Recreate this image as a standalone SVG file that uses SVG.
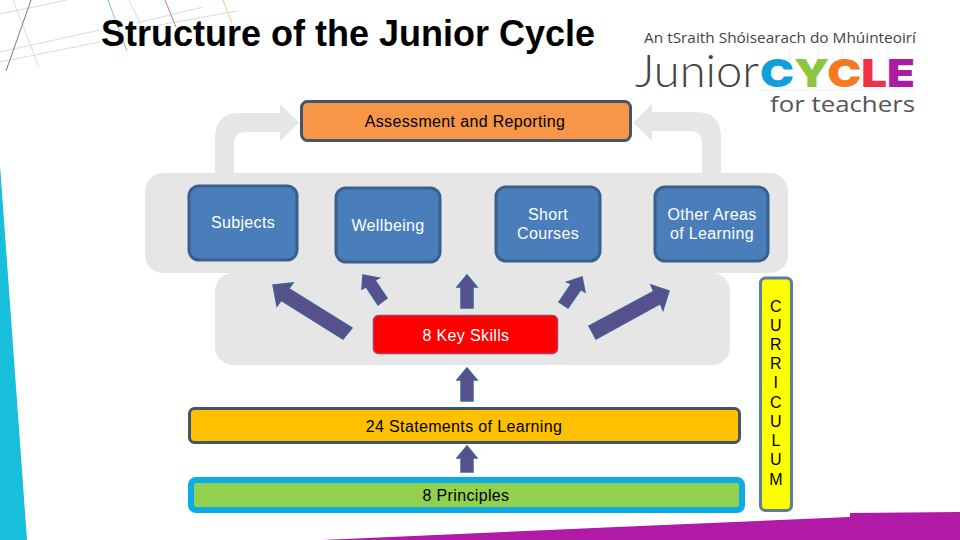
<svg xmlns="http://www.w3.org/2000/svg" width="960" height="540" viewBox="0 0 960 540">
<style>
text{font-family:"Liberation Sans",Arial,sans-serif}
.lbl{font-size:16px;letter-spacing:.35px;text-anchor:middle}
.w{fill:#fff}
.k{fill:#000}
.panel{fill:#e6e6e6}
.blue{fill:#4a7ebb;stroke:#3b5f8c;stroke-width:3}
.arr{fill:#56508c;stroke:#3f6391;stroke-width:1.5;stroke-linejoin:miter}
.g{stroke:#d5dde2;stroke-width:1;fill:none}
.logo{font-family:"Open Sans","Liberation Sans",sans-serif}
</style>
<rect width="960" height="540" fill="#fff"/>
<g id="decor">
<polygon points="0,165 27,540 0,540" fill="#17bfdb"/>
<polygon points="322,540 640,526 850,517 850,513 960,512 960,540" fill="#b01aa6"/>
<path class="g" d="M0 14L67 0M0 52L100 30M0 62L100 42M137 23L203 7M137 29L237 11M13 0L39 67M129 0L142 27"/>
<path d="M31 0L6 71" stroke="#8f6a8c" fill="none"/>
<path d="M108 0L127 51" stroke="#7cc6dc" fill="none"/>
<path d="M165 0L176 27" stroke="#c77c88" fill="none"/>
<path d="M223 0L232 23" stroke="#ebcb94" fill="none"/>
</g>
<g id="title"><text x="101" y="46" font-size="36" font-weight="700" fill="#000">Structure of the Junior Cycle</text></g>
<g id="logo" class="logo">
<path d="M790 47V90M818 47V90M842 47V90M861 47V90M888 47V90M760 90H915" stroke="#eceff1" fill="none"/>
<text class="logo" x="644" y="43" font-size="13.6" fill="#444" textLength="272" lengthAdjust="spacingAndGlyphs">An tSraith Shóisearach do Mhúinteoirí</text>
<text x="635" y="87" font-size="45" font-weight="300" fill="#444" style="font-family:Lato,'Open Sans',sans-serif" textLength="124" lengthAdjust="spacingAndGlyphs">Junior</text>
<text x="760" y="87" font-size="39" font-weight="900" textLength="155" lengthAdjust="spacingAndGlyphs" style="font-family:Inter,'Liberation Sans',sans-serif"><tspan fill="#0f9fdc">C</tspan><tspan fill="#8cc63f">Y</tspan><tspan fill="#f47a20">C</tspan><tspan fill="#ee3145">L</tspan><tspan fill="#a91ea0">E</tspan></text>
<text class="logo" x="770" y="112" font-size="21" fill="#555" textLength="145" lengthAdjust="spacingAndGlyphs">for teachers</text>
</g>
<g id="panels">
<rect class="panel" x="145" y="173" width="643" height="100" rx="18"/>
<rect class="panel" x="215" y="273" width="515" height="92" rx="18"/>
</g>
<g id="connectors">
<path class="panel" d="M215 173V138Q215 113 240 113H280V104L299 122.500L280 141V132H246Q234 132 234 144V173Z"/>
<path class="panel" d="M721 173V137Q721 112 696 112H652V104L633 122.500L652 141V131H690Q702 131 702 143V173Z"/>
<polygon class="arr" points="273,285 293,283 288.800,288.600 352,328 343,339 281.200,300.400 277,306"/>
<polygon class="arr" points="363,275 379,278 374.900,280.200 387,298 378,305 366.100,286.800 362,289"/>
<polygon class="arr" points="467,275 477,287 473,287 473,308 461,308 461,287 457,287"/>
<polygon class="arr" points="582,277 585,292 580.600,289.700 568,308 559,302 571.400,283.700 567,282"/>
<polygon class="arr" points="669,291 663,310 660.300,303.700 596,339 589,326 653.700,291.300 651,285"/>
<polygon class="arr" points="467,368 477,380 473,380 473,401 461,401 461,380 457,380"/>
<polygon class="arr" points="467,446 477,458 473,458 473,472 461,472 461,458 457,458"/>
</g>
<g id="assessment"><rect x="301.500" y="101.500" width="329" height="39" rx="6" fill="#f79646" stroke="#44546a" stroke-width="3"/><text class="lbl k" x="465" y="127">Assessment and Reporting</text></g>
<g id="subjects"><rect class="blue" x="189" y="186" width="108" height="74" rx="10"/><text class="lbl w" x="243" y="228">Subjects</text></g>
<g id="wellbeing"><rect class="blue" x="336" y="188" width="104" height="74" rx="10"/><text class="lbl w" x="388" y="231">Wellbeing</text></g>
<g id="short-courses"><rect class="blue" x="496" y="187" width="104" height="74" rx="10"/><text class="lbl w" x="548" y="220">Short</text><text class="lbl w" x="548" y="239">Courses</text></g>
<g id="other-areas"><rect class="blue" x="655" y="187" width="113" height="74" rx="10"/><text class="lbl w" x="712" y="220">Other Areas</text><text class="lbl w" x="712" y="239">of Learning</text></g>
<g id="key-skills"><rect x="373.500" y="315.500" width="184" height="38" rx="5" fill="#ff0000" stroke="#b5395b" stroke-width="1.500"/><text class="lbl w" x="466" y="341">8 Key Skills</text></g>
<g id="statements"><rect x="189.500" y="408.500" width="550" height="34" rx="5" fill="#ffc000" stroke="#44546a" stroke-width="3"/><text class="lbl k" x="464" y="432">24 Statements of Learning</text></g>
<g id="principles"><rect x="191" y="480" width="551" height="30" rx="5" fill="#92d050" stroke="#0dabe3" stroke-width="6"/><text class="lbl k" x="466" y="501">8 Principles</text></g>
<g id="curriculum"><rect x="760.500" y="278" width="31" height="232.500" rx="5" fill="#ffff00" stroke="#5b7f95" stroke-width="3"/>
<text class="lbl k" x="776" y="312">C</text><text class="lbl k" x="776" y="331">U</text><text class="lbl k" x="776" y="350">R</text><text class="lbl k" x="776" y="369">R</text><text class="lbl k" x="776" y="388">I</text><text class="lbl k" x="776" y="408">C</text><text class="lbl k" x="776" y="427">U</text><text class="lbl k" x="776" y="446">L</text><text class="lbl k" x="776" y="465">U</text><text class="lbl k" x="776" y="485">M</text></g>
</svg>
